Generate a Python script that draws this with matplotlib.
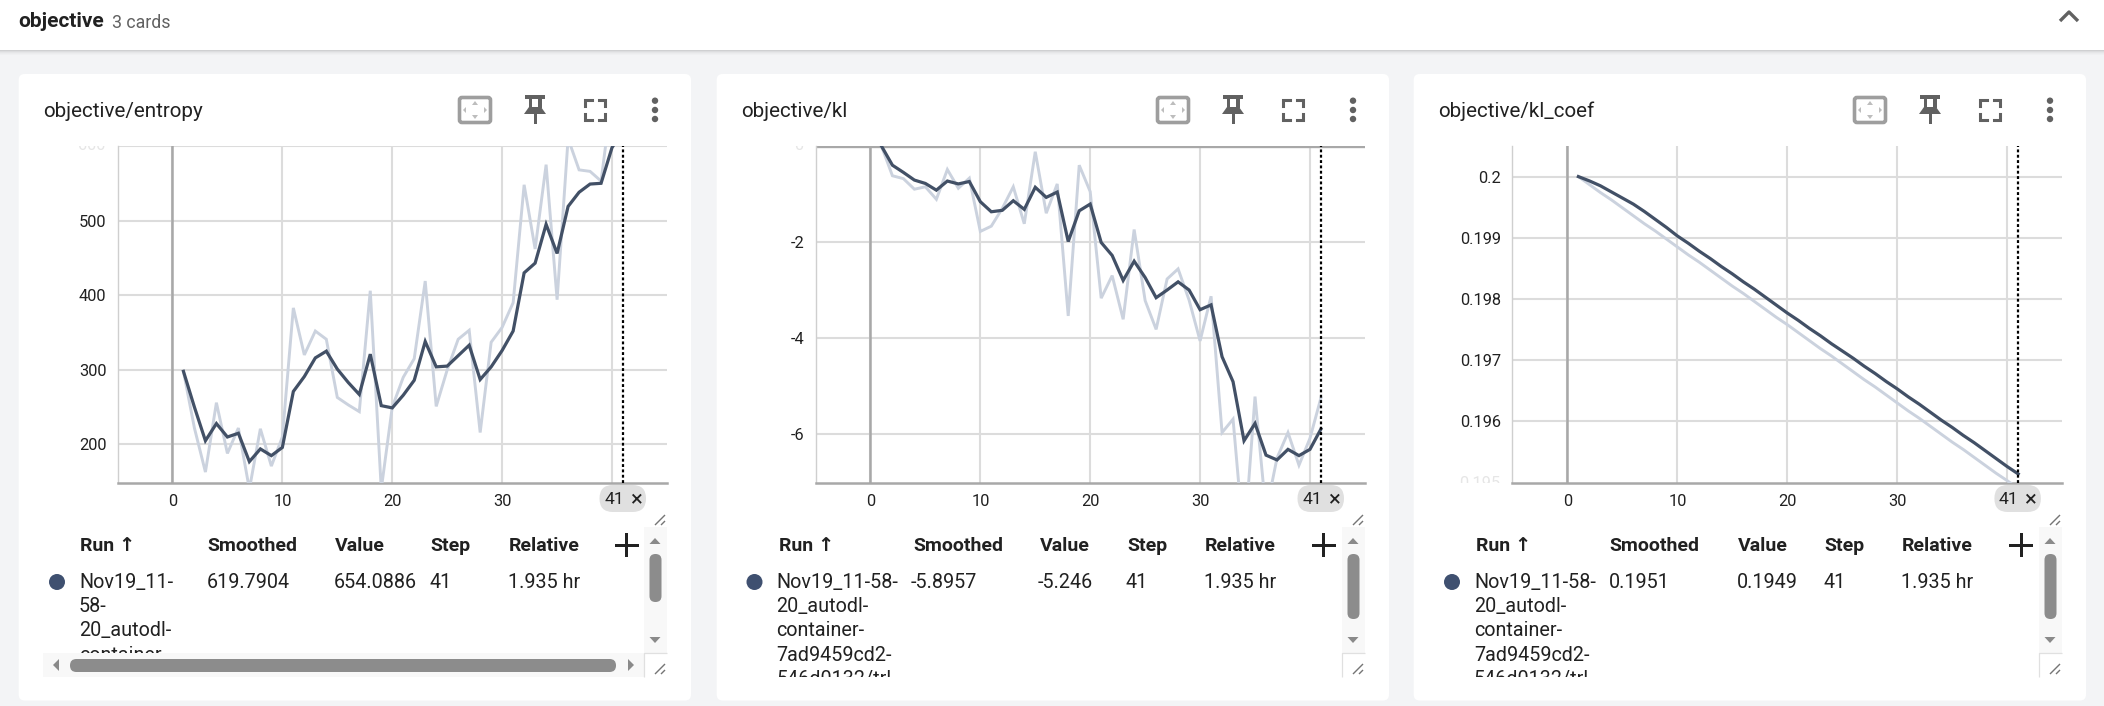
import matplotlib
matplotlib.use("Agg")
import matplotlib.pyplot as plt
from matplotlib.patches import Rectangle, FancyBboxPatch, Polygon, Circle
from matplotlib.transforms import Bbox, TransformedBbox

W, H = 2104, 706
plt.rcParams['font.family'] = ['Roboto', 'DejaVu Sans']

steps = list(range(1, 42))

entropy_raw = [298, 222, 163, 256, 188, 222, 140, 221, 171, 210, 383, 320, 352, 341, 263, 253, 244, 406, 140, 250,
               290, 315, 419, 251, 300, 341, 353, 216, 337, 357, 390, 548, 462, 575, 394, 610, 568, 566, 553, 668, 654.0886]
entropy_smooth = [298, 250, 205, 228, 210, 215, 177, 194, 185, 196, 271, 291, 316, 325, 301, 283, 267, 321, 252, 249,
                  266, 286, 338, 304, 305, 319, 333, 287, 304, 326, 352, 430, 443, 495, 456, 519, 538, 549, 550, 598, 619.7904]

kl_raw = [0.0, -0.62, -0.68, -0.90, -0.85, -1.11, -0.49, -0.88, -0.67, -1.78, -1.67, -1.30, -0.85, -1.62, -0.12, -1.40,
          -0.79, -3.54, -0.40, -0.95, -3.17, -2.70, -3.61, -1.74, -3.22, -3.82, -2.77, -2.56, -3.21, -4.06, -3.13,
          -5.97, -5.69, -8.3, -5.22, -7.64, -6.5, -5.97, -6.65, -6.09, -5.246]
kl_smooth = [0.0, -0.40, -0.55, -0.71, -0.78, -0.92, -0.73, -0.79, -0.74, -1.16, -1.37, -1.34, -1.14, -1.32, -0.86, -1.07,
             -0.96, -1.99, -1.35, -1.21, -2.01, -2.28, -2.80, -2.40, -2.74, -3.16, -3.00, -2.83, -3.00, -3.41, -3.31,
             -4.39, -4.91, -6.14, -5.78, -6.44, -6.54, -6.32, -6.45, -6.32, -5.8957]

coef_raw = [.20000, .19987, .19974, .19962, .19949, .19936, .19923, .19911, .19898, .19885, .19872, .19860, .19847, .19834,
            .19821, .19809, .19796, .19783, .19770, .19758, .19745, .19732, .19719, .19707, .19694, .19681, .19668, .19656,
            .19643, .19630, .19617, .19605, .19592, .19579, .19566, .19554, .19541, .19528, .19515, .19503, .1949]
coef_smooth = [.20000, .19993, .19985, .19975, .19965, .19955, .19943, .19930, .19917, .19903, .19891, .19878, .19866, .19853,
               .19841, .19828, .19816, .19803, .19790, .19777, .19765, .19752, .19740, .19727, .19715, .19703, .19690, .19678,
               .19665, .19653, .19640, .19628, .19615, .19602, .19590, .19577, .19565, .19552, .19539, .19526, .19514]

x_ticks = [0, 10, 20, 30, 40]
x_labels = ['0', '10', '20', '30', '']
table_headers = ['Smoothed', 'Value', 'Step', 'Relative']
DARK = '#425066'
LIGHT = '#cbd2de'
BG = '#f3f4f6'
GRID = '#dcdcdc'
AXIS = '#a8a8a8'
TEXT = '#212121'
ICON = '#616161'

fig = plt.figure(figsize=(W / 100, H / 100), dpi=100, facecolor=BG)
ui = fig.add_axes([0, 0, 1, 1])
ui.set_xlim(0, W)
ui.set_ylim(H, 0)
ui.axis('off')


def rect(x0, y0, x1, y1, color, z=1, **kw):
    ui.add_patch(Rectangle((x0, y0), x1 - x0, y1 - y0, facecolor=color, edgecolor='none', zorder=z, **kw))


def pill(x0, y0, x1, y1, color, r, z=3):
    ui.add_patch(FancyBboxPatch((x0 + r, y0 + r), x1 - x0 - 2 * r, y1 - y0 - 2 * r,
                                boxstyle=f"round,pad={r},rounding_size={r}",
                                facecolor=color, edgecolor='none', zorder=z))


def line(xs, ys, color=ICON, lw=2.0, z=5):
    ui.plot(xs, ys, color=color, lw=lw, zorder=z, solid_capstyle='butt')


def tri(points, color='#757575', z=6):
    ui.add_patch(Polygon(points, closed=True, facecolor=color, edgecolor='none', zorder=z))


def clipped_text(x, y, s, box, **kw):
    t = ui.text(x, y, s, zorder=4, **kw)
    t.set_clip_box(TransformedBbox(Bbox([[box[0], box[1]], [box[2], box[3]]]), ui.transData))
    t.set_clip_on(True)
    return t


# top bar and its shadow
rect(0, 0, W, 50, 'white', z=2)
for i, c in enumerate(['#cfd0d2', '#dcdddf', '#e5e6e8', '#ebecee', '#eff0f2']):
    rect(0, 50 + i, W, 51 + i, c, z=2)
ui.text(18, 21.5, 'objective', fontsize=15, fontweight='bold', color=TEXT, va='center', zorder=3)
ui.text(112.5, 22.5, '3 cards', fontsize=12.8, color='#616161', va='center', zorder=3)
line([2060, 2069, 2078], [21, 12, 21], color=ICON, lw=2.4)


def draw_icons(off):
    # fit domain
    ui.add_patch(FancyBboxPatch((461 + off, 99), 28, 22, boxstyle="round,pad=1.5,rounding_size=2.5",
                                facecolor='white', edgecolor='#9e9e9e', lw=2.6, zorder=5))
    tri([(475 + off - 3, 105), (475 + off + 3, 105), (475 + off, 101)], '#bdbdbd')
    tri([(475 + off - 3, 115), (475 + off + 3, 115), (475 + off, 119)], '#bdbdbd')
    tri([(466 + off, 107), (466 + off, 113), (463 + off, 110)], '#bdbdbd')
    tri([(484 + off, 107), (484 + off, 113), (487 + off, 110)], '#bdbdbd')
    # pin
    rect(525 + off, 95, 545 + off, 98.5, ICON, z=5)
    rect(528.5 + off, 98, 532 + off, 108, ICON, z=5)
    rect(538 + off, 98, 541.5 + off, 108, ICON, z=5)
    tri([(529 + off, 107), (541 + off, 107), (546 + off, 114), (524 + off, 114)], ICON)
    rect(533.5 + off, 113, 536.5 + off, 124, ICON, z=5)
    # fullscreen
    for xs, ys in [((585, 585, 592), (106, 100, 100)), ((599, 605, 605), (100, 100, 106)),
                   ((585, 585, 592), (114, 120, 120)), ((599, 605, 605), (120, 120, 114))]:
        ui.plot([v + off for v in xs], ys, color=ICON, lw=2.2, zorder=5, solid_joinstyle='miter')
    # menu dots
    for yy in (100.7, 110, 119):
        ui.add_patch(Circle((655 + off, yy), 3.2, facecolor=ICON, edgecolor='none', zorder=5))


def draw_corner(x, y):
    line([x, x + 10], [y + 10, y], color='#757575', lw=1.0)
    line([x + 6, x + 10], [y + 10, y + 6], color='#757575', lw=1.0)


def draw_card(off, title, ax_left, ax_right, raw, smooth, ylim, yticks, ylabels, ghost,
              name_lines, vals, col_x, val_x, thumb_bottom, wide_bar):
    card_l = 18.7 + off
    card_r = 691 + off
    pill(card_l, 74, card_r, 700.5, 'white', 6, z=1)
    ui.text(42.8 + off, 111.5, title, fontsize=14.9, color=TEXT, va='center', zorder=3)
    draw_icons(off)

    ax = fig.add_axes([ax_left / W, 1 - 482.5 / H, (ax_right - ax_left) / W, (482.5 - 146) / H])
    ax.set_facecolor('none')
    ax.set_xlim(-5, 45)
    ax.set_ylim(*ylim)
    ax.plot(steps, raw, color=LIGHT, lw=2.1, zorder=3, solid_joinstyle='miter')
    ax.plot(steps, smooth, color=DARK, lw=2.3, zorder=4, solid_joinstyle='miter')
    ax.axvline(41, color='black', lw=1.6, linestyle=(0, (1.3, 1.1)), zorder=5)
    ax.axvline(0, color=AXIS, lw=1.8, zorder=2)
    if ylim[1] == 0:
        ax.axhline(0, color=AXIS, lw=2.4, zorder=2)
    ax.grid(True, color=GRID, lw=1.5)
    ax.set_axisbelow(True)
    ax.set_xticks(x_ticks)
    ax.set_xticklabels(x_labels)
    ax.set_yticks(yticks)
    ax.set_yticklabels(ylabels)
    ax.tick_params(length=0, labelsize=11.8, labelcolor=TEXT, pad=8)
    for s in ('top', 'right'):
        ax.spines[s].set_visible(False)
    ax.spines['left'].set_color('#cfcfcf')
    ax.spines['left'].set_linewidth(1.0)
    ax.spines['bottom'].set_color(AXIS)
    ax.spines['bottom'].set_linewidth(1.8)

    # clipped tick label fading out at the axis end
    gx, gy, gs, gcolor = ghost
    clipped_text(gx, gy, gs, (ax_left - 60, 146, ax_left, 482.5), fontsize=11.8, color=gcolor, ha='right', va='center')

    # step chip
    pill(ax_left + 482, 485, ax_left + 528.5, 512, '#e0e0e0', 13.4)
    ui.text(ax_left + 496.5, 499, '41', fontsize=12.6, color=TEXT, ha='center', va='center', zorder=4)
    ui.text(ax_left + 518, 500.5, '×', fontsize=16, color=TEXT, ha='center', va='center', zorder=4)

    # table
    for s, x in zip(['Run ↑'] + table_headers, col_x[:5]):
        ui.text(x - 0.5, 546, s, fontsize=14, fontweight='bold', color=TEXT, va='center', zorder=4)
    rect(col_x[5] - 12, 543.5, col_x[5] + 12, 546.5, '#212121', z=4)
    rect(col_x[5] - 1.5, 533, col_x[5] + 1.5, 557, '#212121', z=4)
    ui.add_patch(Circle((val_x[0] - 22.5, 582), 8, facecolor='#3f5070', edgecolor='none', zorder=4))

    text_bottom = 653 if wide_bar else 677
    for i, s in enumerate(name_lines):
        clipped_text(val_x[0] - 0.5, 582 + i * 24.5, s, (val_x[0] - 5, 560, val_x[0] + 140, text_bottom),
                     fontsize=14.2, color=TEXT, va='center')
    for s, x in zip(vals, val_x[1:]):
        ui.text(x, 582, s, fontsize=14.2, color=TEXT, va='center', zorder=4)

    # vertical scrollbar
    bar_l = 644 + off
    bar_r = 667 + off
    rect(bar_l, 527, bar_r, 653, '#f8f8f8', z=2)
    pill(bar_l + 5.5, 554, bar_l + 17.5, thumb_bottom, '#8c8c8c', 5.9, z=3)
    cx = bar_l + 11
    tri([(cx - 5.5, 544), (cx + 5.5, 544), (cx, 538)], '#8a8a8a')
    tri([(cx - 5.5, 637), (cx + 5.5, 637), (cx, 643)], '#8a8a8a')
    draw_corner(655 + off, 515)
    # corner of the scroll area
    rect(bar_l, 653, bar_r, 677, 'white', z=5)
    line([bar_l, bar_l, bar_r], [677, 653, 653], color='#e0e0e0', lw=0.9, z=6)
    draw_corner(655 + off, 664)
    # horizontal scrollbar only on the first card
    if wide_bar:
        rect(43, 653, bar_l, 677, '#f8f8f8', z=5)
        pill(70, 659, 616, 672, '#8c8c8c', 6.4, z=6)
        tri([(59, 659), (59, 671), (53, 665)], '#8a8a8a')
        tri([(628, 659), (628, 671), (634, 665)], '#8a8a8a')


draw_card(0, 'objective/entropy', 117.5, 667, entropy_raw, entropy_smooth, (149, 600),
          [200, 300, 400, 500, 600], ['200', '300', '400', '500', ''], (105.5, 146, '600', '#e6e6e6'),
          ['Nov19_11-', '58-', '20_autodl-', 'container-'],
          ['619.7904', '654.0886', '41', '1.935 hr'],
          [80, 208, 335.7, 430.8, 509, 626.8], [79.5, 206.7, 334, 429.5, 507.6], 602, True)
draw_card(698, 'objective/kl', 815.5, 1364.9, kl_raw, kl_smooth, (-7.01, 0),
          [-6, -4, -2, 0], ['-6', '-4', '-2', ''], (803.5, 146, '0', '#e6e6e6'),
          ['Nov19_11-58-', '20_autodl-', 'container-', '7ad9459cd2-', '546d0132/trl'],
          ['-5.8957', '-5.246', '41', '1.935 hr'],
          [779.2, 913.6, 1040.4, 1127.4, 1205.5, 1323.8], [777, 910.9, 1038, 1125.6, 1204], 619, False)
draw_card(1395, 'objective/kl_coef', 1512.4, 2062.2, coef_raw, coef_smooth, (0.19500, 0.20050),
          [0.196, 0.197, 0.198, 0.199, 0.2], ['0.196', '0.197', '0.198', '0.199', '0.2'], (1500.5, 483, '0.195', '#e6e6e6'),
          ['Nov19_11-58-', '20_autodl-', 'container-', '7ad9459cd2-', '546d0132/trl'],
          ['0.1951', '0.1949', '41', '1.935 hr'],
          [1476.3, 1610, 1738, 1824.5, 1902, 2021], [1474.5, 1608.5, 1736.6, 1823, 1901], 619, False)

plt.savefig("out.png", dpi=100, facecolor=BG)
plt.close()
